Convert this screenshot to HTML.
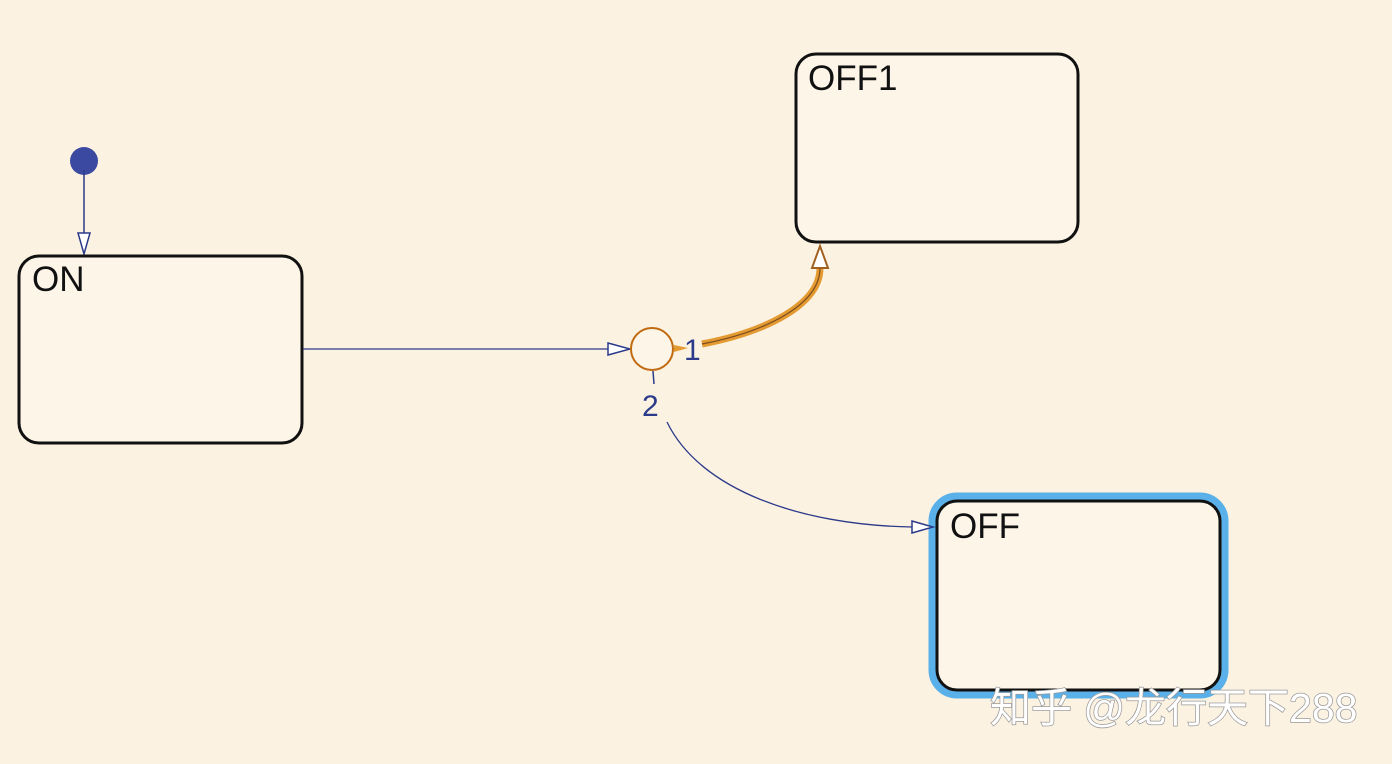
<!DOCTYPE html>
<html><head><meta charset="utf-8"><style>
html,body{margin:0;padding:0;background:#fcf2e2;}
svg{display:block;}
</style></head><body>
<svg width="1392" height="764" viewBox="0 0 1392 764" xmlns="http://www.w3.org/2000/svg">
<rect width="1392" height="764" fill="#fcf2e2"/>
<circle cx="84" cy="161" r="14" fill="#3b4aa0"/>
<line x1="84" y1="170" x2="84" y2="233" stroke="#2b3a8a" stroke-width="1.5"/>
<polygon points="78,233 90,233 84,254" fill="#fff" stroke="#2b3a8a" stroke-width="1.5"/>
<rect x="19" y="256" width="283" height="187" rx="20" fill="#fdf5e8" stroke="#111" stroke-width="3"/>
<text x="32" y="291" font-family="Liberation Sans, sans-serif" font-size="35" fill="#111">ON</text>
<rect x="796" y="54" width="282" height="188" rx="20" fill="#fdf5e8" stroke="#111" stroke-width="3"/>
<text x="808" y="90" font-family="Liberation Sans, sans-serif" font-size="35" fill="#111">OFF1</text>
<rect x="933" y="497" width="291" height="197" rx="24" fill="none" stroke="#5ab0e8" stroke-width="9"/>
<rect x="937" y="501" width="283" height="189" rx="20" fill="#fdf5e8" stroke="#111" stroke-width="3"/>
<text x="950" y="538" font-family="Liberation Sans, sans-serif" font-size="35" fill="#111">OFF</text>
<line x1="303" y1="349" x2="610" y2="349" stroke="#2b3a8a" stroke-width="1.3"/>
<polygon points="608,343 608,355 630,349" fill="#fff" stroke="#2b3a8a" stroke-width="1.5"/>
<circle cx="652" cy="349" r="21" fill="#fdf5e8" stroke="#c06a10" stroke-width="2"/>
<line x1="653" y1="371" x2="654" y2="384" stroke="#2b3a8a" stroke-width="1.5"/>
<path d="M702,344 C765,332 820,305 820,268" fill="none" stroke="#e39a30" stroke-width="7"/>
<path d="M702,344 C765,332 820,305 820,268" fill="none" stroke="#7a4a20" stroke-width="1.2"/>
<polygon points="812,268 828,268 820,246" fill="#fff" stroke="#a06020" stroke-width="2"/>
<path d="M674,345 L688,348 L674,352 Z" fill="#e39a30"/>
<text x="684" y="360" font-family="Liberation Sans, sans-serif" font-size="30" fill="#2b3a8a">1</text>
<text x="642" y="416" font-family="Liberation Sans, sans-serif" font-size="30" fill="#2b3a8a">2</text>
<path d="M667,422 C700,490 800,525 912,527" fill="none" stroke="#2b3a8a" stroke-width="1.3"/>
<polygon points="912,521 912,533 933,527" fill="#fff" stroke="#2b3a8a" stroke-width="1.5"/>
<text x="990" y="722" font-family="Liberation Sans, 'Noto Sans CJK SC', sans-serif" font-size="41" fill="#ffffff" stroke="#9a9a9a" stroke-width="1.5" paint-order="stroke">知乎 @龙行天下288</text>
</svg>
</body></html>
